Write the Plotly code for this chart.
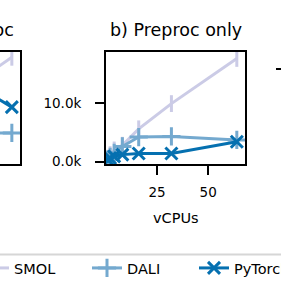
import plotly.graph_objects as go

# ---- data ----
VCPUS = [1, 2, 4, 8, 16, 32, 64]
SMOL_PRE = [600, 1200, 2000, 2800, 5600, 9900, 17600]
DALI_PRE = [400, 800, 1500, 2600, 4200, 4300, 3700]
TORCH_PRE = [300, 600, 900, 1200, 1400, 1400, 3400]

# left panel (only its right edge is visible)
LEFT_VCPUS = [32, 64]
SMOL_FULL = [10100, 17800]
DALI_FULL = [4900, 4900]
TORCH_FULL = [16000, 9300]

SERIES = ["SMOL", "DALI", "PyTorch"]
Y_TICKS = [0, 10000]
Y_TICK_TEXT = ["%.1fk" % (v / 1000) for v in Y_TICKS]
X_TICKS = [25, 50]

W, H = 281, 281
def px(x):
    return x / W
def py(y):
    return 1 - y / H

COLORS = {"SMOL": "#cbcbe6", "DALI": "#74a9cf", "PyTorch": "#0570b0"}
SYMBOLS = {"SMOL": "line-ns", "DALI": "cross-thin", "PyTorch": "x-thin"}
SIZES = {"SMOL": 12, "DALI": 13, "PyTorch": 12}
LEGENDS = {"SMOL": "legend", "DALI": "legend2", "PyTorch": "legend3"}
# text start position (px) of each legend entry
LEG_TEXT_X = {"SMOL": 15, "DALI": 128, "PyTorch": 235}

FONT = "DejaVu Sans"

fig = go.Figure()

pre = {"SMOL": SMOL_PRE, "DALI": DALI_PRE, "PyTorch": TORCH_PRE}
full = {"SMOL": SMOL_FULL, "DALI": DALI_FULL, "PyTorch": TORCH_FULL}

for name in SERIES:
    fig.add_trace(go.Scatter(
        x=LEFT_VCPUS, y=full[name], mode="lines+markers", name=name,
        showlegend=False, xaxis="x", yaxis="y",
        line=dict(color=COLORS[name], width=3),
        marker=dict(symbol=SYMBOLS[name], size=SIZES[name],
                    line=dict(color=COLORS[name], width=3), color=COLORS[name]),
    ))

for name in SERIES:
    fig.add_trace(go.Scatter(
        x=VCPUS, y=pre[name], mode="lines+markers", name=name,
        xaxis="x2", yaxis="y2", legend=LEGENDS[name],
        line=dict(color=COLORS[name], width=3),
        marker=dict(symbol=SYMBOLS[name], size=SIZES[name],
                    line=dict(color=COLORS[name], width=3), color=COLORS[name]),
    ))

axis_common = dict(showline=True, mirror=True, linecolor="black", linewidth=2,
                   ticks="outside", ticklen=9, tickwidth=2, tickcolor="black",
                   showgrid=False, zeroline=False,
                   tickfont=dict(family=FONT, size=13.5, color="black"))

y_dom = [py(164), py(52)]
y_range = [-400, 18700]

def leg(name):
    return dict(orientation="h", x=px(LEG_TEXT_X[name] - 41), y=py(252),
                xanchor="left", yanchor="top",
                font=dict(family=FONT, size=14.5, color="black"),
                bgcolor="rgba(0,0,0,0)", borderwidth=0)

fig.update_layout(
    width=W, height=H,
    margin=dict(l=0, r=0, t=0, b=0, autoexpand=False),
    paper_bgcolor="white", plot_bgcolor="white",
    font=dict(family=FONT, color="black"),
    xaxis=dict(domain=[0, px(20)], range=[68 - 20 / 2.04, 68], tickvals=X_TICKS,
               anchor="y", showticklabels=False, **axis_common),
    yaxis=dict(domain=y_dom, range=y_range, tickvals=Y_TICKS,
               anchor="x", showticklabels=False, **axis_common),
    xaxis2=dict(domain=[px(106), px(245)], range=[0, 68], tickvals=X_TICKS,
                anchor="y2", ticklabelstandoff=6, **axis_common),
    yaxis2=dict(domain=y_dom, range=y_range, tickvals=Y_TICKS, ticktext=Y_TICK_TEXT,
                anchor="x2", ticklabelstandoff=11, **axis_common),
    legend=leg("SMOL"),
    legend2=leg("DALI"),
    legend3=leg("PyTorch"),
    annotations=[
        dict(text="b) Preproc only", x=px(175.5), y=py(29.5), xref="paper", yref="paper",
             xanchor="center", yanchor="middle", showarrow=False,
             font=dict(family=FONT, size=17.5, color="black")),
        dict(text="a) Load + Preproc", x=px(16), y=py(29.5), xref="paper", yref="paper",
             xanchor="right", yanchor="middle", showarrow=False,
             font=dict(family=FONT, size=17.5, color="black")),
        dict(text="vCPUs", x=px(175.5), y=py(217.5), xref="paper", yref="paper",
             xanchor="center", yanchor="middle", showarrow=False,
             font=dict(family=FONT, size=14.5, color="black")),
    ],
    shapes=[
        dict(type="line", xref="paper", yref="paper", x0=px(276), x1=1,
             y0=py(69), y1=py(69), line=dict(color="black", width=2)),
        dict(type="rect", xref="paper", yref="paper", x0=px(-20), x1=px(320),
             y0=py(254.5), y1=py(300), line=dict(color="#d6d6d6", width=2),
             fillcolor="rgba(0,0,0,0)", layer="below"),
    ],
)

fig.write_html("out.html")
